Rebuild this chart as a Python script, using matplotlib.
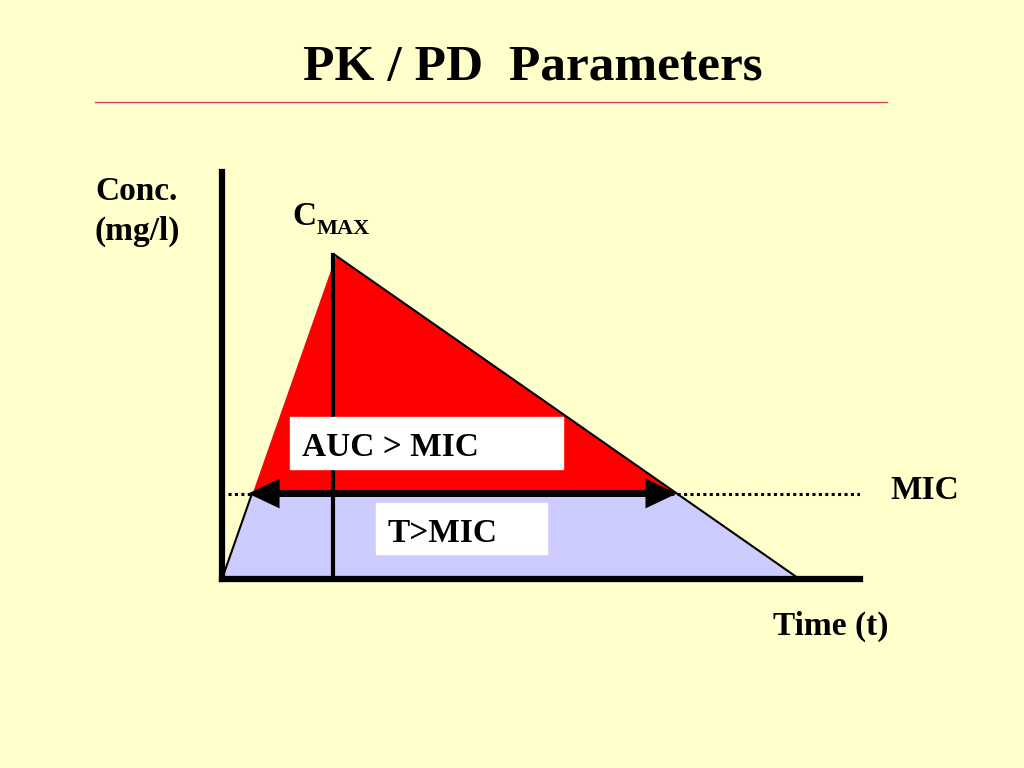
import numpy as np
import matplotlib
matplotlib.use('Agg')
import matplotlib.pyplot as plt
from matplotlib.patches import Rectangle

# concentration-time profile (arbitrary units)
time = np.array([0.0, 1.78, 9.05])
conc = np.array([0.0, 7.95, 0.0])
mic = 2.1
mic_line = [0.1, 10.0]

peak_t = time[1]
peak_c = conc[1]
t_left = peak_t * mic / peak_c
t_right = time[2] - (time[2] - peak_t) * mic / peak_c

bg = '#FFFFCC'
serif = 'Liberation Serif'

fig = plt.figure(figsize=(10.24, 7.68), dpi=100, facecolor=bg)
ax = fig.add_axes([222/1024, 189/768, 638/1024, 407/768])
ax.set_facecolor(bg)
ax.set_xlim(0, 10)
ax.set_ylim(0, 10)
ax.set_xticks([])
ax.set_yticks([])
for s in ['top', 'right']:
    ax.spines[s].set_visible(False)
for s in ['left', 'bottom']:
    ax.spines[s].set_linewidth(4.5)
    ax.spines[s].set_zorder(10)

# areas
ax.fill_between(time, conc, 0, color='#CCCCFF', lw=0, zorder=1)
ax.fill_between(time, conc, mic, where=conc > mic, interpolate=True,
                color='#FF0000', lw=0, zorder=2)

# curve outline (falling part + rising part below MIC)
ax.plot(time[1:], conc[1:], color='black', lw=1.5, zorder=3)
ax.plot([time[0], t_left], [conc[0], mic], color='black', lw=1.5, zorder=3)

# Cmax vertical
ax.plot([peak_t - 0.04, peak_t - 0.04], [0, peak_c], color='black', lw=3, zorder=4)

# MIC dotted line
ax.plot(mic_line, [mic, mic], color='black', lw=2.2,
        linestyle=(0, (1, 1.1)), zorder=3)

# T>MIC double arrow
ax.annotate('', xy=(t_right, mic), xytext=(t_left - 0.06, mic),
            arrowprops=dict(arrowstyle='<|-|>,head_length=0.95,head_width=0.45',
                            lw=5, color='black', shrinkA=0, shrinkB=0,
                            joinstyle='miter', capstyle='butt',
                            mutation_scale=15), zorder=5)

# label boxes
fig.patches.append(Rectangle((290/1024, 299/768), 273/1024, 52/768,
                             transform=fig.transFigure, color='white', zorder=6))
fig.patches.append(Rectangle((376/1024, 214/768), 171/1024, 51/768,
                             transform=fig.transFigure, color='white', zorder=6))

tk = dict(family=serif, weight='bold', color='black', va='baseline', ha='left')
fig.text(302/1024, (768-456)/768, 'AUC > MIC', size=24, zorder=7, **tk)
fig.text(387/1024, (768-542)/768, 'T>MIC', size=24, zorder=7, **tk)
fig.text(95/1024, (768-200)/768, 'Conc.', size=24, **tk)
fig.text(95/1024, (768-240)/768, '(mg/l)', size=24, **tk)
fig.text(292/1024, (768-225)/768, 'C', size=24, **tk)
fig.text(317/1024, (768-234)/768, 'MAX', size=16, **tk)
fig.text(890/1024, (768-499)/768, 'MIC', size=24, **tk)
fig.text(773/1024, (768-635)/768, 'Time (t)', size=24, **tk)

# title and rule
fig.text(533/1024, (768-80)/768, 'PK / PD  Parameters', size=37, family=serif,
         weight='bold', ha='center', va='baseline')
fig.add_artist(plt.Line2D([95/1024, 887/1024], [(768-102)/768]*2,
                          color='#E04060', lw=1, transform=fig.transFigure))

fig.savefig('out.png', dpi=100, facecolor=bg)
